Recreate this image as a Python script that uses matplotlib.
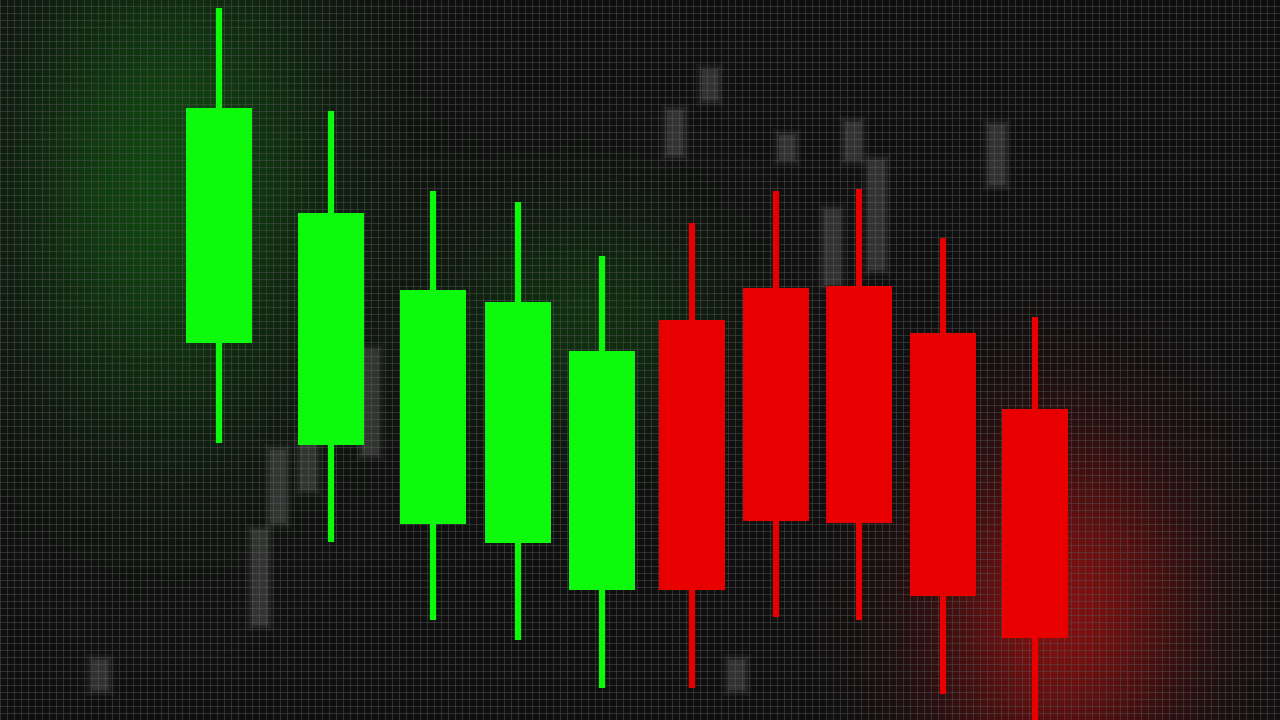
import numpy as np
import matplotlib
matplotlib.use("Agg")
import matplotlib.pyplot as plt
from matplotlib.patches import Rectangle

# main candles (x position, open, high, low, close) in chart units
xpos = [219, 331, 433, 518, 602, 692, 776, 859, 943, 1035]
opens = [377, 275, 196, 177, 130, 400, 432, 434, 387, 311]
highs = [712, 609, 529, 518, 464, 497, 529, 531, 482, 403]
lows = [277, 178, 100, 80, 32, 32, 103, 100, 26, -10]
closes = [612, 507, 430, 418, 369, 130, 199, 197, 124, 82]

# faint grey candles in the background (x, top, bottom)
ghost_x = [675, 710, 787, 853, 832, 877, 997, 278, 260, 370, 100, 737, 308]
ghost_top = [610, 650, 585, 598, 510, 560, 595, 270, 190, 370, 60, 60, 280]
ghost_bot = [565, 620, 560, 560, 435, 450, 535, 197, 95, 265, 30, 30, 230]

W, H = 1280, 720
fig = plt.figure(figsize=(12.8, 7.2), dpi=100)
ax = fig.add_axes([0, 0, 1, 1])
ax.set_xlim(0, W)
ax.set_ylim(0, H)

# background with green and red glow
yy, xx = np.mgrid[0:H, 0:W]
yy = H - yy
img = np.zeros((H, W, 3))
img[:] = 0.06
g1 = np.exp(-(((xx - 170) / 150) ** 2 + ((yy - 540) / 230) ** 2))
g2 = np.exp(-(((xx - 580) / 130) ** 2 + ((yy - 400) / 110) ** 2))
r1 = np.exp(-(((xx - 1060) / 120) ** 2 + ((yy - 110) / 160) ** 2))
img[..., 1] += 0.22 * g1 + 0.13 * g2
img[..., 0] += 0.45 * r1
img = np.clip(img, 0, 1)
ax.imshow(img, extent=[0, W, 0, H], origin="upper", zorder=0, aspect="auto")

# fine grid
for gx in np.arange(0, W, 7):
    ax.axvline(gx, color="#555555", lw=0.8, alpha=0.45, zorder=1)
for gy in np.arange(0, H, 7):
    ax.axhline(gy, color="#555555", lw=0.8, alpha=0.45, zorder=1)

# soft grey ghosts, a few layers for a blurred edge
for x, t, b in zip(ghost_x, ghost_top, ghost_bot):
    for pad, a in [(6, 0.08), (3, 0.12), (0, 0.2)]:
        ax.add_patch(Rectangle((x - 8 - pad, b - pad), 16 + 2 * pad, t - b + 2 * pad,
                               color="#777777", alpha=a, lw=0, zorder=2))

for x, o, h, l, c in zip(xpos, opens, highs, lows, closes):
    col = "#0dfa0d" if c > o else "#e80000"
    ax.vlines(x, l, h, color=col, lw=4.5, zorder=3)
    ax.add_patch(Rectangle((x - 33, min(o, c)), 66, abs(c - o), color=col, lw=0, zorder=4))

ax.axis("off")
fig.savefig("out.png", dpi=100)
